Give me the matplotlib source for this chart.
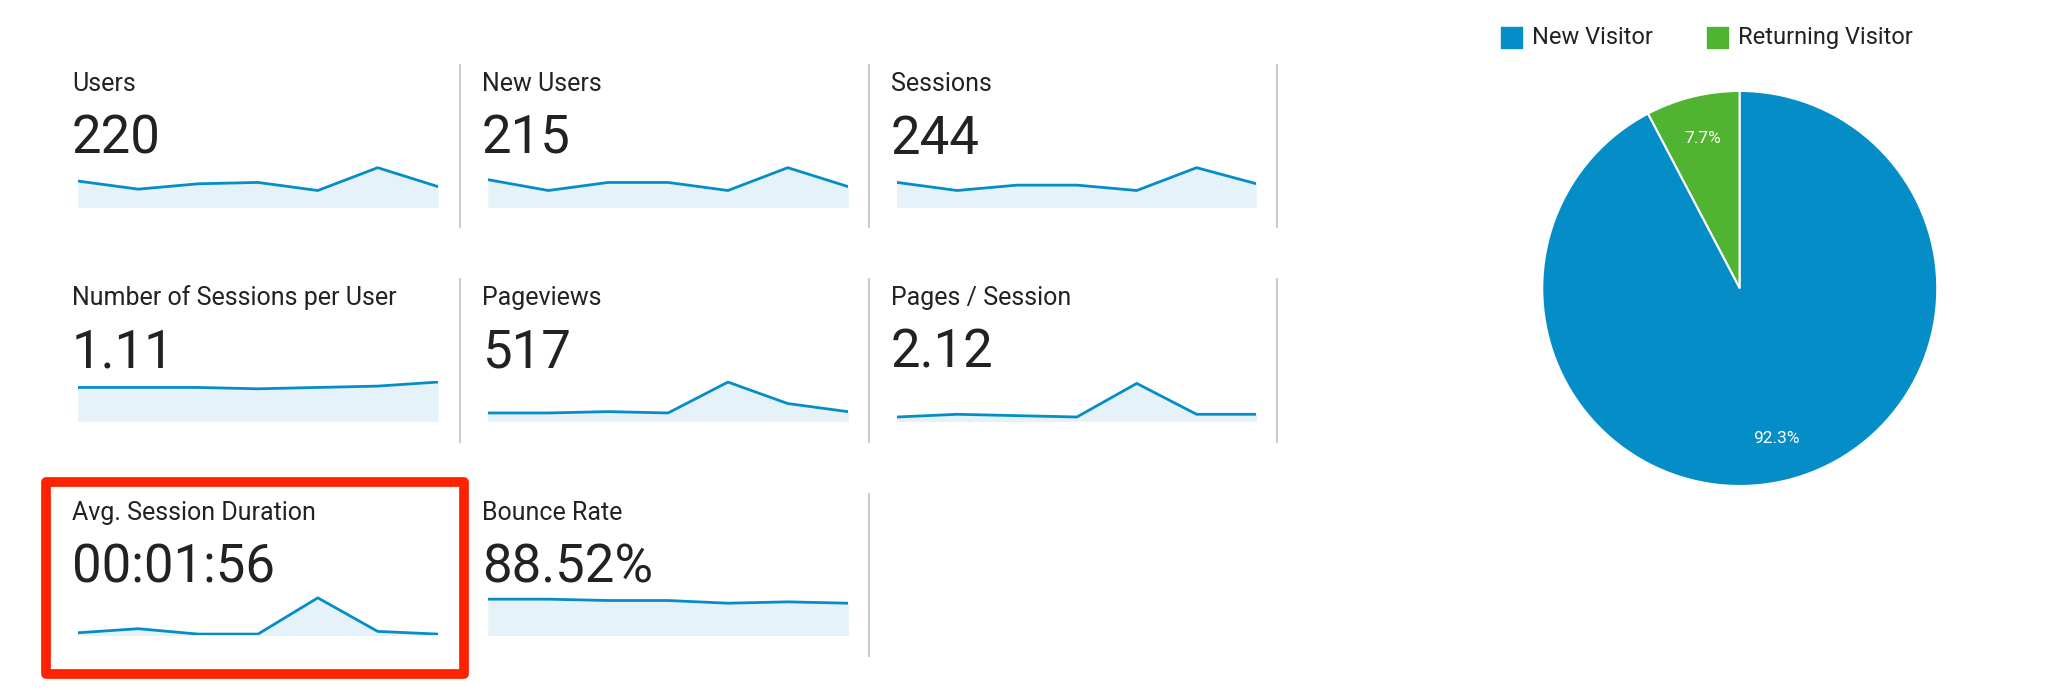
import matplotlib.pyplot as plt
from matplotlib.patches import Rectangle

plt.rcParams['font.family'] = ['Roboto', 'DejaVu Sans']

titles = ["Users", "New Users", "Sessions",
          "Number of Sessions per User", "Pageviews", "Pages / Session",
          "Avg. Session Duration", "Bounce Rate"]
values = ["220", "215", "244", "1.11", "517", "2.12", "00:01:56", "88.52%"]
sparks = [
    [19, 13, 17, 18, 12, 29, 15],
    [20, 12, 18, 18, 12, 29, 15],
    [18, 12, 16, 16, 12, 29, 17],
    [25, 25, 25, 24, 25, 26, 29],
    [6, 6, 7, 6, 29, 13, 7],
    [3, 5, 4, 3, 28, 5, 5],
    [2, 5, 1, 1, 28, 3, 1],
    [27, 27, 26, 26, 24, 25, 24],
]
pie_labels = ["Returning Visitor", "New Visitor"]
pie_values = [7.7, 92.3]

W, H = 1568, 531
BLUE = "#058dc7"
GREEN = "#50b432"

fig = plt.figure(figsize=(20.48, 6.9), dpi=100)

def fx(x): return x / W
def fy(y): return 1 - y / H

col_x = [55, 369, 682]
row_title = [65, 229, 395]
row_value = [107, 272, 437]
row_base = [159, 324, 489]

for i, (t, v, s) in enumerate(zip(titles, values, sparks)):
    r, c = divmod(i, 3)
    x0 = col_x[c]
    fig.text(fx(x0), fy(row_title[r]), t, fontsize=18, color="#222", va="center")
    fig.text(fx(x0), fy(row_value[r]), v, fontsize=38, color="#222", va="center")
    ax = fig.add_axes([fx(x0 + 5), fy(row_base[r]), 275 / W, 31 / H])
    xs = range(len(s))
    ax.fill_between(xs, s, 0, color="#e6f2fa")
    ax.plot(xs, s, color=BLUE, lw=2)
    ax.set_xlim(0, len(s) - 1)
    ax.set_ylim(0, 30)
    ax.axis("off")

# dividers
for x, y0, y1 in [(352, 50, 175), (665, 50, 175), (978, 50, 175),
                  (352, 215, 340), (665, 215, 340), (978, 215, 340),
                  (665, 380, 505)]:
    fig.add_artist(plt.Line2D([fx(x), fx(x)], [fy(y0), fy(y1)], color="#cccccc", lw=1.5))

# highlight box
fig.add_artist(Rectangle((fx(35), fy(519)), 320 / W, 148 / H, fill=False,
                         edgecolor="#ff2200", lw=7, joinstyle="round"))

# pie
pax = fig.add_axes([fx(1142), fy(412), 380 / W, 380 / H])
wedges, _, autot = pax.pie(pie_values, colors=[GREEN, BLUE], startangle=90, counterclock=True,
                           autopct="%1.1f%%", pctdistance=0.78,
                           wedgeprops=dict(edgecolor="white", linewidth=1.5),
                           textprops=dict(color="white", fontsize=12.5))
pax.set_aspect("equal")

# legend
for lx, lab, colr in [(1149, "New Visitor", BLUE), (1307, "Returning Visitor", GREEN)]:
    fig.add_artist(Rectangle((fx(lx), fy(37)), 16 / W, 16 / H, color=colr))
    fig.text(fx(lx + 24), fy(29), lab, fontsize=17, color="#222", va="center")

fig.savefig("out.png", dpi=100)
